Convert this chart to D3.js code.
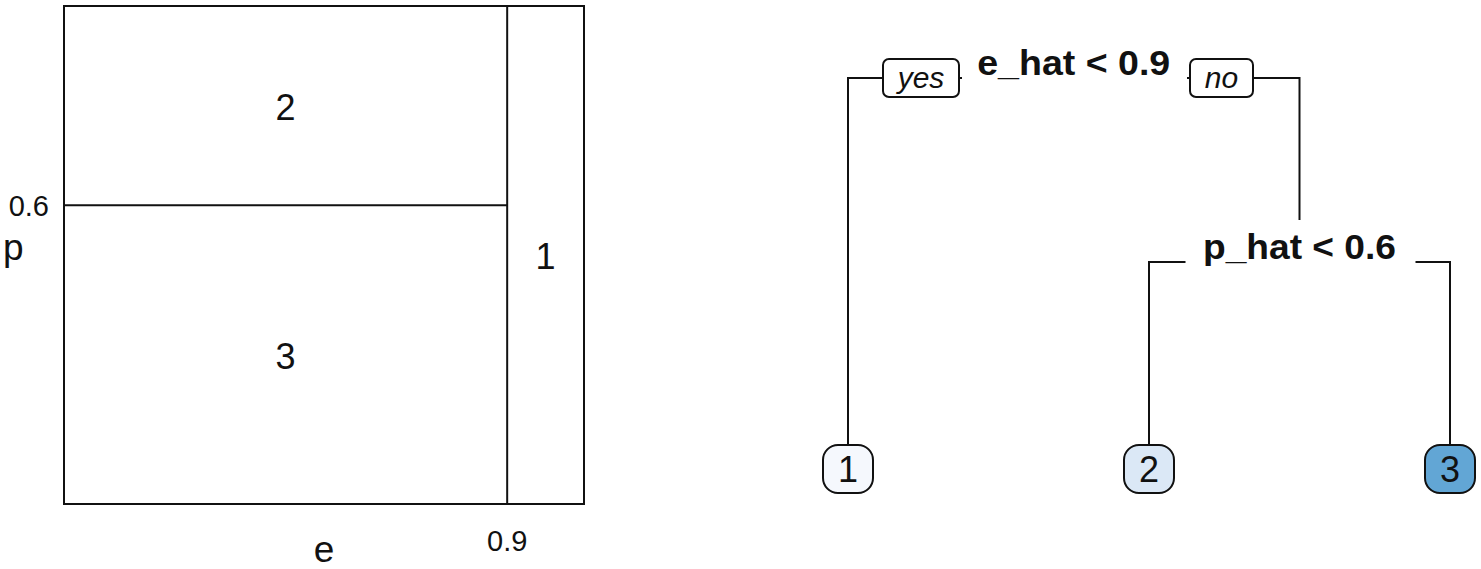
<!DOCTYPE html>
<html>
<head>
<meta charset="utf-8">
<script src="https://cdn.jsdelivr.net/npm/d3@7"></script>
<style>
  body { margin: 0; background: #fff; }
  text { font-family: "Liberation Sans", Arial, Helvetica, sans-serif; fill: #111; }
</style>
</head>
<body>
<div id="chart"></div>
<script>
// Partition plot (left) data
const eSplit = 0.9;
const pSplit = 0.6;
const regionLabels = ["2", "3", "1"];
const regionE0 = [0, 0, 0.9];
const regionE1 = [0.9, 0.9, 1.056];
const regionP0 = [0.6, 0, 0];
const regionP1 = [1, 0.6, 1];
const eTicks = ["0.9"];
const pTicks = ["0.6"];

// Tree (right) data
const leafIds = ["1", "2", "3"];
const leafFills = ["#f5f8fd", "#dbe8f6", "#62a6d5"];
const splitLabels = ["e_hat < 0.9", "p_hat < 0.6"];
const splitDepth = [0, 1];
const branchLabels = ["yes", "no"];

const W = 1481, H = 569;
const svg = d3.select("#chart").append("svg")
  .attr("width", W).attr("height", H);

// ---------- left: partition ----------
const x = d3.scaleLinear().domain([0, 1.056]).range([64, 584]);
const y = d3.scaleLinear().domain([0, 1]).range([504, 6]);
const left = svg.append("g");

left.append("rect")
  .attr("x", x(0)).attr("y", y(1))
  .attr("width", x(1.056) - x(0)).attr("height", y(0) - y(1))
  .attr("fill", "none").attr("stroke", "#111").attr("stroke-width", 2);

left.append("line")
  .attr("x1", x(eSplit)).attr("x2", x(eSplit))
  .attr("y1", y(0)).attr("y2", y(1))
  .attr("stroke", "#111").attr("stroke-width", 2);

left.append("line")
  .attr("x1", x(0)).attr("x2", x(eSplit))
  .attr("y1", y(pSplit)).attr("y2", y(pSplit))
  .attr("stroke", "#111").attr("stroke-width", 2);

regionLabels.forEach((lab, i) => {
  left.append("text")
    .attr("x", (x(regionE0[i]) + x(regionE1[i])) / 2)
    .attr("y", (y(regionP0[i]) + y(regionP1[i])) / 2 + 14)
    .attr("text-anchor", "middle")
    .attr("font-size", 36)
    .text(lab);
});

// tick labels
left.append("text")
  .attr("x", x(eSplit)).attr("y", 551)
  .attr("text-anchor", "middle").attr("font-size", 29)
  .text(eTicks[0]);
left.append("text")
  .attr("x", 49).attr("y", y(pSplit) + 11)
  .attr("text-anchor", "end").attr("font-size", 29)
  .text(pTicks[0]);

// axis titles
left.append("text")
  .attr("x", (x(0) + x(1.056)) / 2).attr("y", 562)
  .attr("text-anchor", "middle").attr("font-size", 37)
  .text("e");
left.append("text")
  .attr("x", 3).attr("y", 260)
  .attr("font-size", 37)
  .text("p");

// ---------- right: tree ----------
const lx = d3.scalePoint().domain(leafIds).range([848, 1450]);
const ly = d3.scaleLinear().domain([0, 2]).range([78, 446]);
const tree = svg.append("g");

// split x positions: midpoint of their two children
const split2X = (lx("2") + lx("3")) / 2;
const rootX = (lx("1") + split2X) / 2;
const splitX = [rootX, split2X];
const lineW = 2;

function seg(x1, y1, x2, y2) {
  tree.append("line")
    .attr("x1", x1).attr("y1", y1).attr("x2", x2).attr("y2", y2)
    .attr("stroke", "#111").attr("stroke-width", lineW);
}

// root connections
const r0 = ly(0);
seg(lx("1"), r0, 883, r0);
seg(lx("1"), r0 - 1, lx("1"), ly(2));
seg(1253, r0, split2X, r0);
seg(split2X, r0 - 1, split2X, ly(1) - 42);
seg(959, r0, 962, r0);
seg(1187, r0, 1190, r0);

// second split connections
const r1 = ly(1);
seg(lx("2"), r1, split2X - 114, r1);
seg(lx("2"), r1 - 1, lx("2"), ly(2));
seg(split2X + 116, r1, lx("3"), r1);
seg(lx("3"), r1 - 1, lx("3"), ly(2));

// split labels
splitLabels.forEach((lab, i) => {
  tree.append("text")
    .attr("x", splitX[i])
    .attr("y", ly(splitDepth[i]) - 3)
    .attr("text-anchor", "middle")
    .attr("font-size", 35)
    .attr("font-weight", "bold")
    .attr("textLength", 193)
    .attr("lengthAdjust", "spacingAndGlyphs")
    .text(lab);
});

// yes / no boxes
const boxX = [883, 1190];
const boxW = [76, 63];
branchLabels.forEach((lab, i) => {
  tree.append("rect")
    .attr("x", boxX[i]).attr("y", r0 - 19)
    .attr("width", boxW[i]).attr("height", 38)
    .attr("rx", 6)
    .attr("fill", "#fff").attr("stroke", "#111").attr("stroke-width", 2);
  tree.append("text")
    .attr("x", boxX[i] + boxW[i] / 2).attr("y", r0 + 10)
    .attr("text-anchor", "middle")
    .attr("font-size", 30)
    .attr("font-style", "italic")
    .text(lab);
});

// leaves
leafIds.forEach((id, i) => {
  tree.append("rect")
    .attr("x", lx(id) - 25).attr("y", ly(2) - 1)
    .attr("width", 50).attr("height", 48)
    .attr("rx", 15)
    .attr("fill", leafFills[i]).attr("stroke", "#111").attr("stroke-width", 2);
  tree.append("text")
    .attr("x", lx(id)).attr("y", ly(2) + 36)
    .attr("text-anchor", "middle")
    .attr("font-size", 36)
    .text(id);
});
</script>
</body>
</html>
